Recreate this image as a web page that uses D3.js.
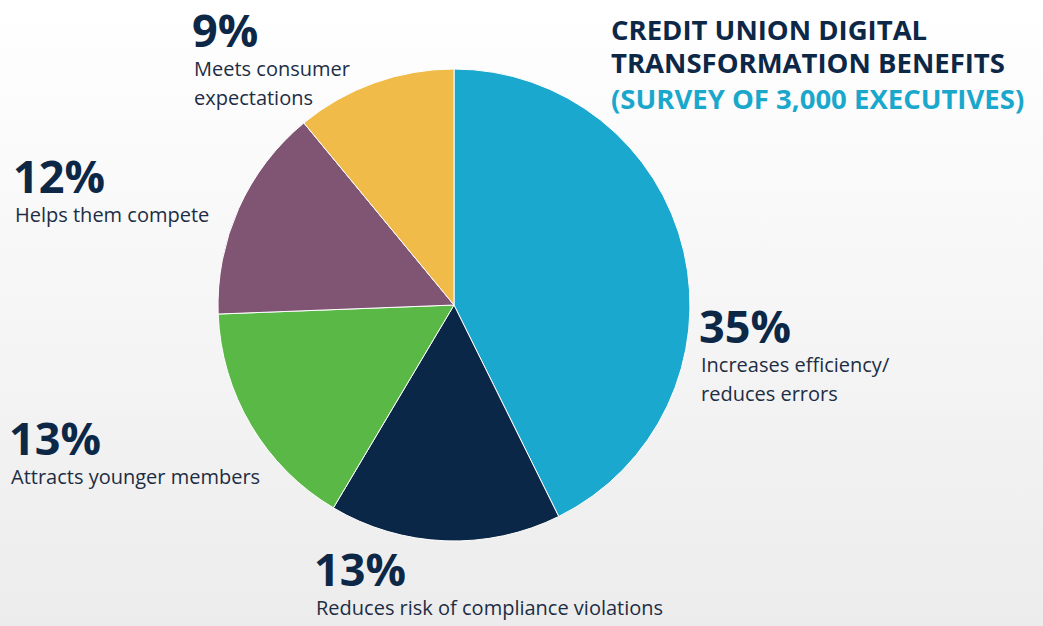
<!DOCTYPE html>
<html><head><meta charset="utf-8">
<script src="https://cdn.jsdelivr.net/npm/d3@7"></script>
<style>body{margin:0}svg{display:block}</style></head>
<body><svg id="c" width="1043" height="626"></svg>
<script>
const categories = ["Increases efficiency/\nreduces errors","Reduces risk of compliance violations","Attracts younger members","Helps them compete","Meets consumer\nexpectations"];
const values = [35,13,13,12,9];
const colors = ["#1ba8cf","#0b2747","#5ab946","#7f5573","#f0bb48"];
const labelPos = [[699,343],[314,586],[9,455],[13,193],[192,47]];

const svg = d3.select("#c");
const defs = svg.append("defs");
const g = defs.append("linearGradient").attr("id","bg").attr("x1",0).attr("y1",0).attr("x2",0).attr("y2",1);
g.append("stop").attr("offset","0").attr("stop-color","#ffffff");
g.append("stop").attr("offset","1").attr("stop-color","#ececec");
svg.append("rect").attr("width",1043).attr("height",626).attr("fill","url(#bg)");

const pie = d3.pie().sort(null).value(d=>d)(values);
const arc = d3.arc().innerRadius(0).outerRadius(236);
svg.append("g").attr("transform","translate(454,305)")
  .selectAll("path").data(pie).join("path")
  .attr("d",arc).attr("fill",(d,i)=>colors[i]).attr("stroke","#fff").attr("stroke-width",1);

const font = "'Open Sans', sans-serif";
categories.forEach((c,i)=>{
  const [x,y]=labelPos[i];
  svg.append("text").attr("x",x).attr("y",y).attr("font-family",font).attr("font-weight",700)
    .attr("font-size",45).attr("fill","#0d2847").text(values[i]+"%");
  c.split("\n").forEach((l,j)=>{
    svg.append("text").attr("x",x+2).attr("y",y+29+j*29).attr("font-family",font)
      .attr("font-size",20).attr("fill","#1d2d44").text(l);
  });
});
const title = [["CREDIT UNION DIGITAL","#0d2847",40],["TRANSFORMATION BENEFITS","#0d2847",73],["(SURVEY OF 3,000 EXECUTIVES)","#1aa7cc",109]];
title.forEach(([t,col,y])=>svg.append("text").attr("x",611).attr("y",y).attr("font-family",font)
  .attr("font-weight",700).attr("font-size",27.5).attr("fill",col).text(t));
</script></body></html>
